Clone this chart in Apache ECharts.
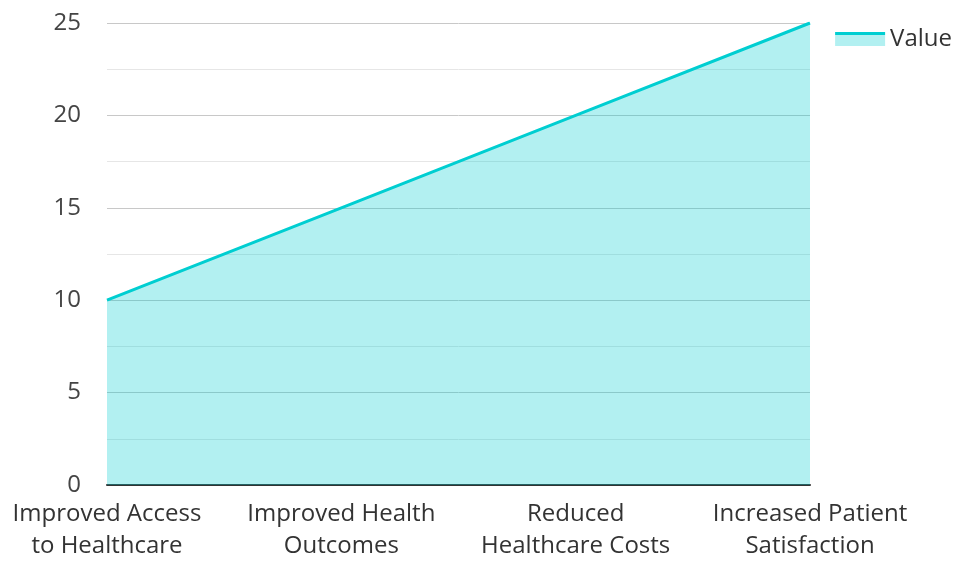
<!DOCTYPE html>
<html><head><meta charset="utf-8">
<script src="https://cdn.jsdelivr.net/npm/echarts@6/dist/echarts.min.js"></script>
<style>html,body{margin:0;padding:0;background:#fff;overflow:hidden}#c{width:959px;height:562px}</style>
</head><body><div id="c"></div>
<script>
var categories = ["Improved Access\nto Healthcare", "Improved Health\nOutcomes", "Reduced\nHealthcare Costs", "Increased Patient\nSatisfaction"];
var values = [10, 15, 20, 25];
var seriesName = "Value";
var yTicks = {min: 0, max: 25, interval: 5};

var chart = echarts.init(document.getElementById('c'), null, {renderer: 'canvas', width: 959, height: 562});
var font = "'Open Sans', 'Noto Sans', sans-serif";
chart.setOption({
  animation: false,
  textStyle: {fontFamily: font},
  grid: {left: 107, width: 703, top: 23, height: 467},
  legend: {
    right: 2, top: 22,
    icon: 'rect', itemWidth: 50, itemHeight: 14, itemGap: 10,
    textStyle: {fontSize: 24, color: '#333', fontFamily: font},
    data: [{
      name: seriesName,
      itemStyle: {color: {type: 'linear', x: 0, y: 0, x2: 0, y2: 1, colorStops: [
        {offset: 0, color: '#00CED1'}, {offset: 0.25, color: '#00CED1'},
        {offset: 0.25, color: '#b2f0f1'}, {offset: 1, color: '#b2f0f1'}]}}
    }]
  },
  xAxis: {
    type: 'category', data: categories, boundaryGap: false,
    axisLine: {lineStyle: {color: '#333', width: 2}},
    axisTick: {show: false},
    axisLabel: {fontSize: 24, color: '#333', margin: 13, lineHeight: 32, interval: 0, fontFamily: font},
    splitLine: {show: false}
  },
  yAxis: {
    type: 'value', min: yTicks.min, max: yTicks.max, interval: yTicks.interval,
    axisLine: {show: false}, axisTick: {show: false},
    axisLabel: {fontSize: 24, color: '#444', margin: 26, fontFamily: font},
    splitLine: {lineStyle: {color: '#c8c8c8', width: 1}},
    minorTick: {show: false, splitNumber: 2},
    minorSplitLine: {show: true, lineStyle: {color: '#e6e6e6', width: 1}}
  },
  series: [{
    name: seriesName, type: 'line', data: values, symbol: 'none',
    lineStyle: {color: '#00CED1', width: 3},
    itemStyle: {color: '#00CED1'},
    areaStyle: {color: '#00CED1', opacity: 0.3}
  }]
});
</script></body></html>
